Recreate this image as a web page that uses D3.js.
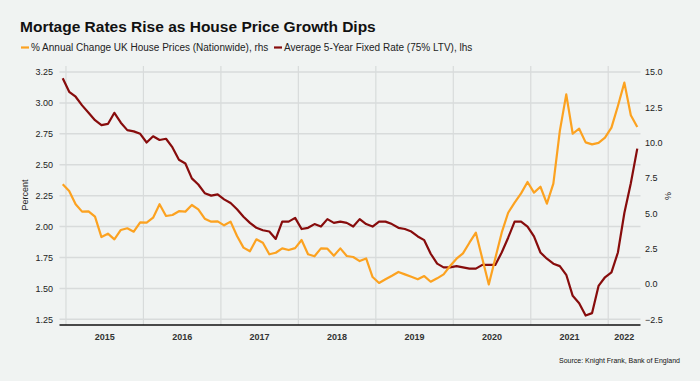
<!DOCTYPE html>
<html>
<head>
<meta charset="utf-8">
<script src="https://cdn.jsdelivr.net/npm/d3@7"></script>
<style>
	body { margin: 0; background: #f0f3f2; }
	svg { display: block; font-family: "Liberation Sans", Arial, sans-serif; }
</style>
</head>
<body>
<div id="vis"></div>
<script>
// Monthly data, Dec 2014 -> May 2022
var startYear = 2014;
var startMonth = 11; // December (0-based)

// % annual change UK house prices (Nationwide), right axis
var houseGrowth = [
	7.05, 6.58, 5.64, 5.12, 5.14, 4.76, 3.32, 3.56, 3.16, 3.82, 3.94, 3.70,
	4.36, 4.34, 4.69, 5.64, 4.81, 4.88, 5.15, 5.12, 5.59, 5.28, 4.62, 4.41,
	4.43, 4.15, 4.41, 3.39, 2.57, 2.31, 3.16, 2.92, 2.10, 2.21, 2.52, 2.40,
	2.54, 3.11, 2.10, 1.96, 2.52, 2.50, 2.00, 2.52, 1.98, 1.91, 1.62, 1.81,
	0.49, 0.07, 0.33, 0.58, 0.85, 0.68, 0.51, 0.33, 0.56, 0.16, 0.40, 0.68,
	1.27, 1.79, 2.17, 2.92, 3.63, 1.79, -0.03, 1.81, 3.63, 5.04, 5.75, 6.41,
	7.22, 6.46, 6.88, 5.68, 7.10, 10.82, 13.42, 10.63, 10.99, 10.02, 9.88, 9.98,
	10.35, 11.06, 12.59, 14.25, 11.94, 11.11
];

// Average 5-year fixed rate (75% LTV), left axis
var fixedRate = [
	3.20, 3.09, 3.05, 2.98, 2.92, 2.86, 2.82, 2.83, 2.92, 2.84, 2.78, 2.77,
	2.75, 2.68, 2.73, 2.70, 2.71, 2.64, 2.54, 2.51, 2.39, 2.34, 2.27, 2.25,
	2.26, 2.22, 2.19, 2.14, 2.08, 2.03, 1.99, 1.97, 1.96, 1.90, 2.04, 2.04,
	2.07, 1.98, 1.99, 2.02, 2.00, 2.06, 2.03, 2.04, 2.03, 2.00, 2.06, 2.02,
	2.00, 2.04, 2.04, 2.02, 1.99, 1.98, 1.96, 1.92, 1.89, 1.78, 1.70, 1.67,
	1.67, 1.68, 1.67, 1.66, 1.66, 1.69, 1.69, 1.69, 1.79, 1.91, 2.04, 2.04,
	2.00, 1.92, 1.79, 1.74, 1.70, 1.68, 1.61, 1.44, 1.38, 1.28, 1.30, 1.52,
	1.59, 1.63, 1.79, 2.11, 2.35, 2.63
];

var leftTicks = [1.25, 1.50, 1.75, 2.00, 2.25, 2.50, 2.75, 3.00, 3.25];
var rightTicks = [-2.5, 0, 2.5, 5, 7.5, 10, 12.5, 15];
var yearLabels = [2015, 2016, 2017, 2018, 2019, 2020, 2021, 2022];

var orange = '#fca220';
var maroon = '#870c0c';

buildChart();

function buildChart() {
	var width = 700, height = 381;
	var plot = {left: 59.5, right: 640.5, top: 66, bottom: 325};

	var svg = d3.select('#vis')
		.append('svg')
		.attr('width', width)
		.attr('height', height);

	var nMonths = fixedRate.length;

	// month index scale, each month is one band, points sit in the middle
	var x = d3.scaleLinear()
		.domain([0, nMonths])
		.range([plot.left, plot.right]);

	var yLeft = d3.scaleLinear()
		.domain([1.25, 3.25])
		.range([319.3, 72]);

	var yRight = d3.scaleLinear()
		.domain([-2.5, 15])
		.range([319.3, 72]);

	// horizontal gridlines from the left axis
	svg.append('g')
		.selectAll('line')
		.data(leftTicks)
		.enter()
		.append('line')
		.attr('x1', plot.left)
		.attr('x2', plot.right)
		.attr('y1', function(d) { return yLeft(d); })
		.attr('y2', function(d) { return yLeft(d); })
		.style('stroke', '#d8dbdb')
		.style('stroke-width', 1.5);

	// vertical gridlines at the start of each year
	var yearStart = yearLabels.map(function(yr) {
		return (yr - startYear) * 12 - startMonth;
	});
	svg.append('g')
		.selectAll('line')
		.data(yearStart)
		.enter()
		.append('line')
		.attr('x1', function(d) { return x(d); })
		.attr('x2', function(d) { return x(d); })
		.attr('y1', plot.top)
		.attr('y2', plot.bottom)
		.style('stroke', '#d8dbdb')
		.style('stroke-width', 1.2);

	// x axis baseline
	svg.append('line')
		.attr('x1', plot.left)
		.attr('x2', plot.right)
		.attr('y1', plot.bottom)
		.attr('y2', plot.bottom)
		.style('stroke', '#111')
		.style('stroke-width', 1.3);

	// left axis labels
	var leftAxis = d3.axisLeft(yLeft)
		.tickValues(leftTicks)
		.tickFormat(d3.format('.2f'))
		.tickSize(0)
		.tickPadding(0);
	var gl = svg.append('g')
		.attr('transform', 'translate(53,0)')
		.call(leftAxis);
	styleAxis(gl);

	// right axis labels
	var rightAxis = d3.axisRight(yRight)
		.tickValues(rightTicks)
		.tickFormat(d3.format('.1f'))
		.tickSize(0)
		.tickPadding(0);
	var gr = svg.append('g')
		.attr('transform', 'translate(645,0)')
		.call(rightAxis);
	styleAxis(gr);

	// year labels centred in their part of the axis
	svg.append('g')
		.selectAll('text')
		.data(yearLabels)
		.enter()
		.append('text')
		.attr('x', function(d, i) {
			var a = Math.max(0, yearStart[i]);
			var b = Math.min(nMonths, yearStart[i] + 12);
			return x((a + b) / 2);
		})
		.attr('y', 340)
		.attr('text-anchor', 'middle')
		.style('font-size', '9px')
		.style('font-weight', 'bold')
		.style('fill', '#333')
		.text(function(d) { return d; });

	// axis titles
	svg.append('text')
		.attr('transform', 'translate(28,195) rotate(-90)')
		.attr('text-anchor', 'middle')
		.style('font-size', '9px')
		.style('fill', '#222')
		.text('Percent');

	svg.append('text')
		.attr('transform', 'translate(671,196) rotate(-90)')
		.attr('text-anchor', 'middle')
		.style('font-size', '9px')
		.style('fill', '#222')
		.text('%');

	// lines
	var houseLine = d3.line()
		.x(function(d, i) { return x(i + 0.5); })
		.y(function(d) { return yRight(d); });

	var rateLine = d3.line()
		.x(function(d, i) { return x(i + 0.5); })
		.y(function(d) { return yLeft(d); });

	svg.append('path')
		.datum(fixedRate)
		.attr('d', rateLine)
		.style('fill', 'none')
		.style('stroke', maroon)
		.style('stroke-width', 2.2)
		.style('stroke-linejoin', 'round');

	svg.append('path')
		.datum(houseGrowth)
		.attr('d', houseLine)
		.style('fill', 'none')
		.style('stroke', orange)
		.style('stroke-width', 2.2)
		.style('stroke-linejoin', 'round');

	// title
	svg.append('text')
		.attr('x', 20)
		.attr('y', 32)
		.style('font-size', '15.5px')
		.style('font-weight', 'bold')
		.style('fill', '#111')
		.text('Mortage Rates Rise as House Price Growth Dips');

	// legend
	var legend = [
		{name: '% Annual Change UK House Prices (Nationwide), rhs', color: orange, x: 21},
		{name: 'Average 5-Year Fixed Rate (75% LTV), lhs', color: maroon, x: 274}
	];
	var lg = svg.append('g')
		.selectAll('g')
		.data(legend)
		.enter()
		.append('g')
		.attr('transform', function(d) { return 'translate(' + d.x + ',47.5)'; });

	lg.append('line')
		.attr('x1', 0)
		.attr('x2', 8)
		.style('stroke', function(d) { return d.color; })
		.style('stroke-width', 2.2);

	lg.append('text')
		.attr('x', 10)
		.attr('dy', '0.35em')
		.style('font-size', '10px')
		.style('fill', '#222')
		.text(function(d) { return d.name; });

	// source note
	svg.append('text')
		.attr('x', 680)
		.attr('y', 363)
		.attr('text-anchor', 'end')
		.style('font-size', '7px')
		.style('fill', '#111')
		.text('Source: Knight Frank, Bank of England');
}

// Removes the axis line and sets label style
function styleAxis(g) {
	g.select('.domain').remove();
	g.selectAll('text')
		.style('font-size', '9px')
		.style('font-family', '"Liberation Sans", Arial, sans-serif')
		.style('fill', '#222');
}
</script>
</body>
</html>
